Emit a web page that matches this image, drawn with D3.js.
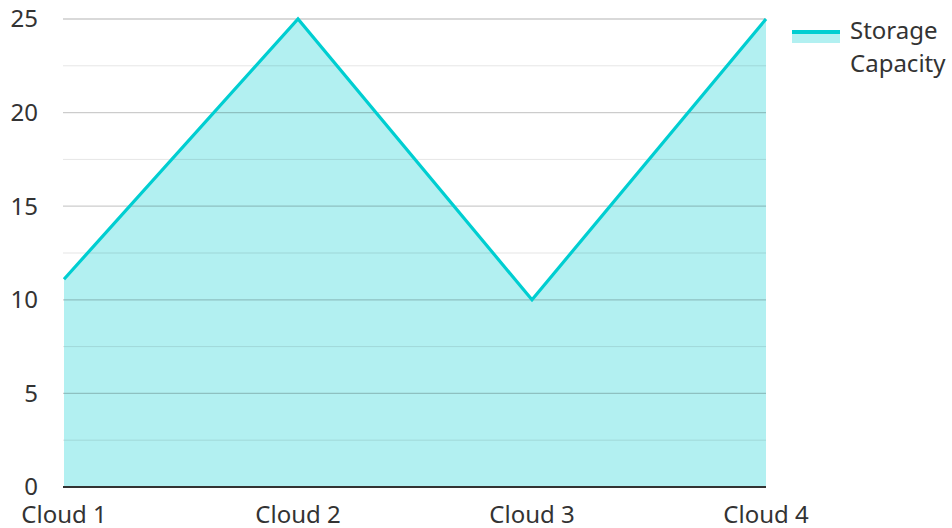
<!DOCTYPE html>
<html><head><meta charset="utf-8">
<script src="https://cdn.jsdelivr.net/npm/d3@7"></script>
<style>body{margin:0;background:#fff;}svg{display:block;font-family:"Noto Sans","Open Sans",sans-serif;}</style>
</head><body><svg id="c" width="952" height="528"></svg>
<script>
const categories = ["Cloud 1","Cloud 2","Cloud 3","Cloud 4"];
const values = [11.1, 25, 10, 25];
const seriesName = ["Storage","Capacity"];
const majorTicks = [0,5,10,15,20,25];
const minorTicks = [2.5,7.5,12.5,17.5,22.5];

const svg = d3.select("#c");
const m = {l:64, r:766, t:19, b:487};
const x = d3.scalePoint().domain(categories).range([m.l, m.r]);
const y = d3.scaleLinear().domain([0,25]).range([m.b, m.t]);
const color = "#00CED1";
const fs = 24;

// area
svg.append("path").datum(values)
  .attr("d", d3.area().x((d,i)=>x(categories[i])).y0(y(0)).y1(d=>y(d)))
  .attr("fill", color).attr("fill-opacity", 0.3);

// grid
svg.selectAll(".minor").data(minorTicks).enter().append("line")
  .attr("x1", m.l-1).attr("x2", m.r).attr("y1", d=>y(d)).attr("y2", d=>y(d))
  .attr("stroke", "#000").attr("stroke-opacity", 0.1).attr("stroke-width", 1);
svg.selectAll(".major").data(majorTicks.filter(d=>d>0)).enter().append("line")
  .attr("x1", m.l-1).attr("x2", m.r).attr("y1", d=>y(d)).attr("y2", d=>y(d))
  .attr("stroke", "#000").attr("stroke-opacity", 0.2).attr("stroke-width", 1.3);

// line
svg.append("path").datum(values)
  .attr("d", d3.line().x((d,i)=>x(categories[i])).y(d=>y(d)))
  .attr("fill", "none").attr("stroke", color).attr("stroke-width", 3.2).attr("stroke-linejoin","miter");

// x axis baseline
svg.append("line").attr("x1", m.l-1).attr("x2", m.r).attr("y1", y(0)).attr("y2", y(0))
  .attr("stroke", "#333").attr("stroke-width", 2);

// y labels
svg.selectAll(".yl").data(majorTicks).enter().append("text")
  .attr("x", 38).attr("y", d=>y(d)).attr("dy", "0.35em").attr("text-anchor","end")
  .attr("font-size", fs).attr("fill", "#333").text(d=>d);

// x labels
svg.selectAll(".xl").data(categories).enter().append("text")
  .attr("x", d=>x(d)).attr("y", 515).attr("dy","0.35em").attr("text-anchor","middle")
  .attr("font-size", fs).attr("fill", "#333").text(d=>d);

// legend
const lg = svg.append("g");
lg.append("rect").attr("x", 792).attr("y", 31).attr("width", 48).attr("height", 12)
  .attr("fill", color).attr("fill-opacity", 0.3);
lg.append("line").attr("x1", 792).attr("x2", 840).attr("y1", 32).attr("y2", 32)
  .attr("stroke", color).attr("stroke-width", 4);
lg.selectAll("text").data(seriesName).enter().append("text")
  .attr("x", 850).attr("y", (d,i)=>31 + i*33).attr("dy","0.35em")
  .attr("font-size", fs).attr("fill", "#333").text(d=>d);
</script></body></html>
